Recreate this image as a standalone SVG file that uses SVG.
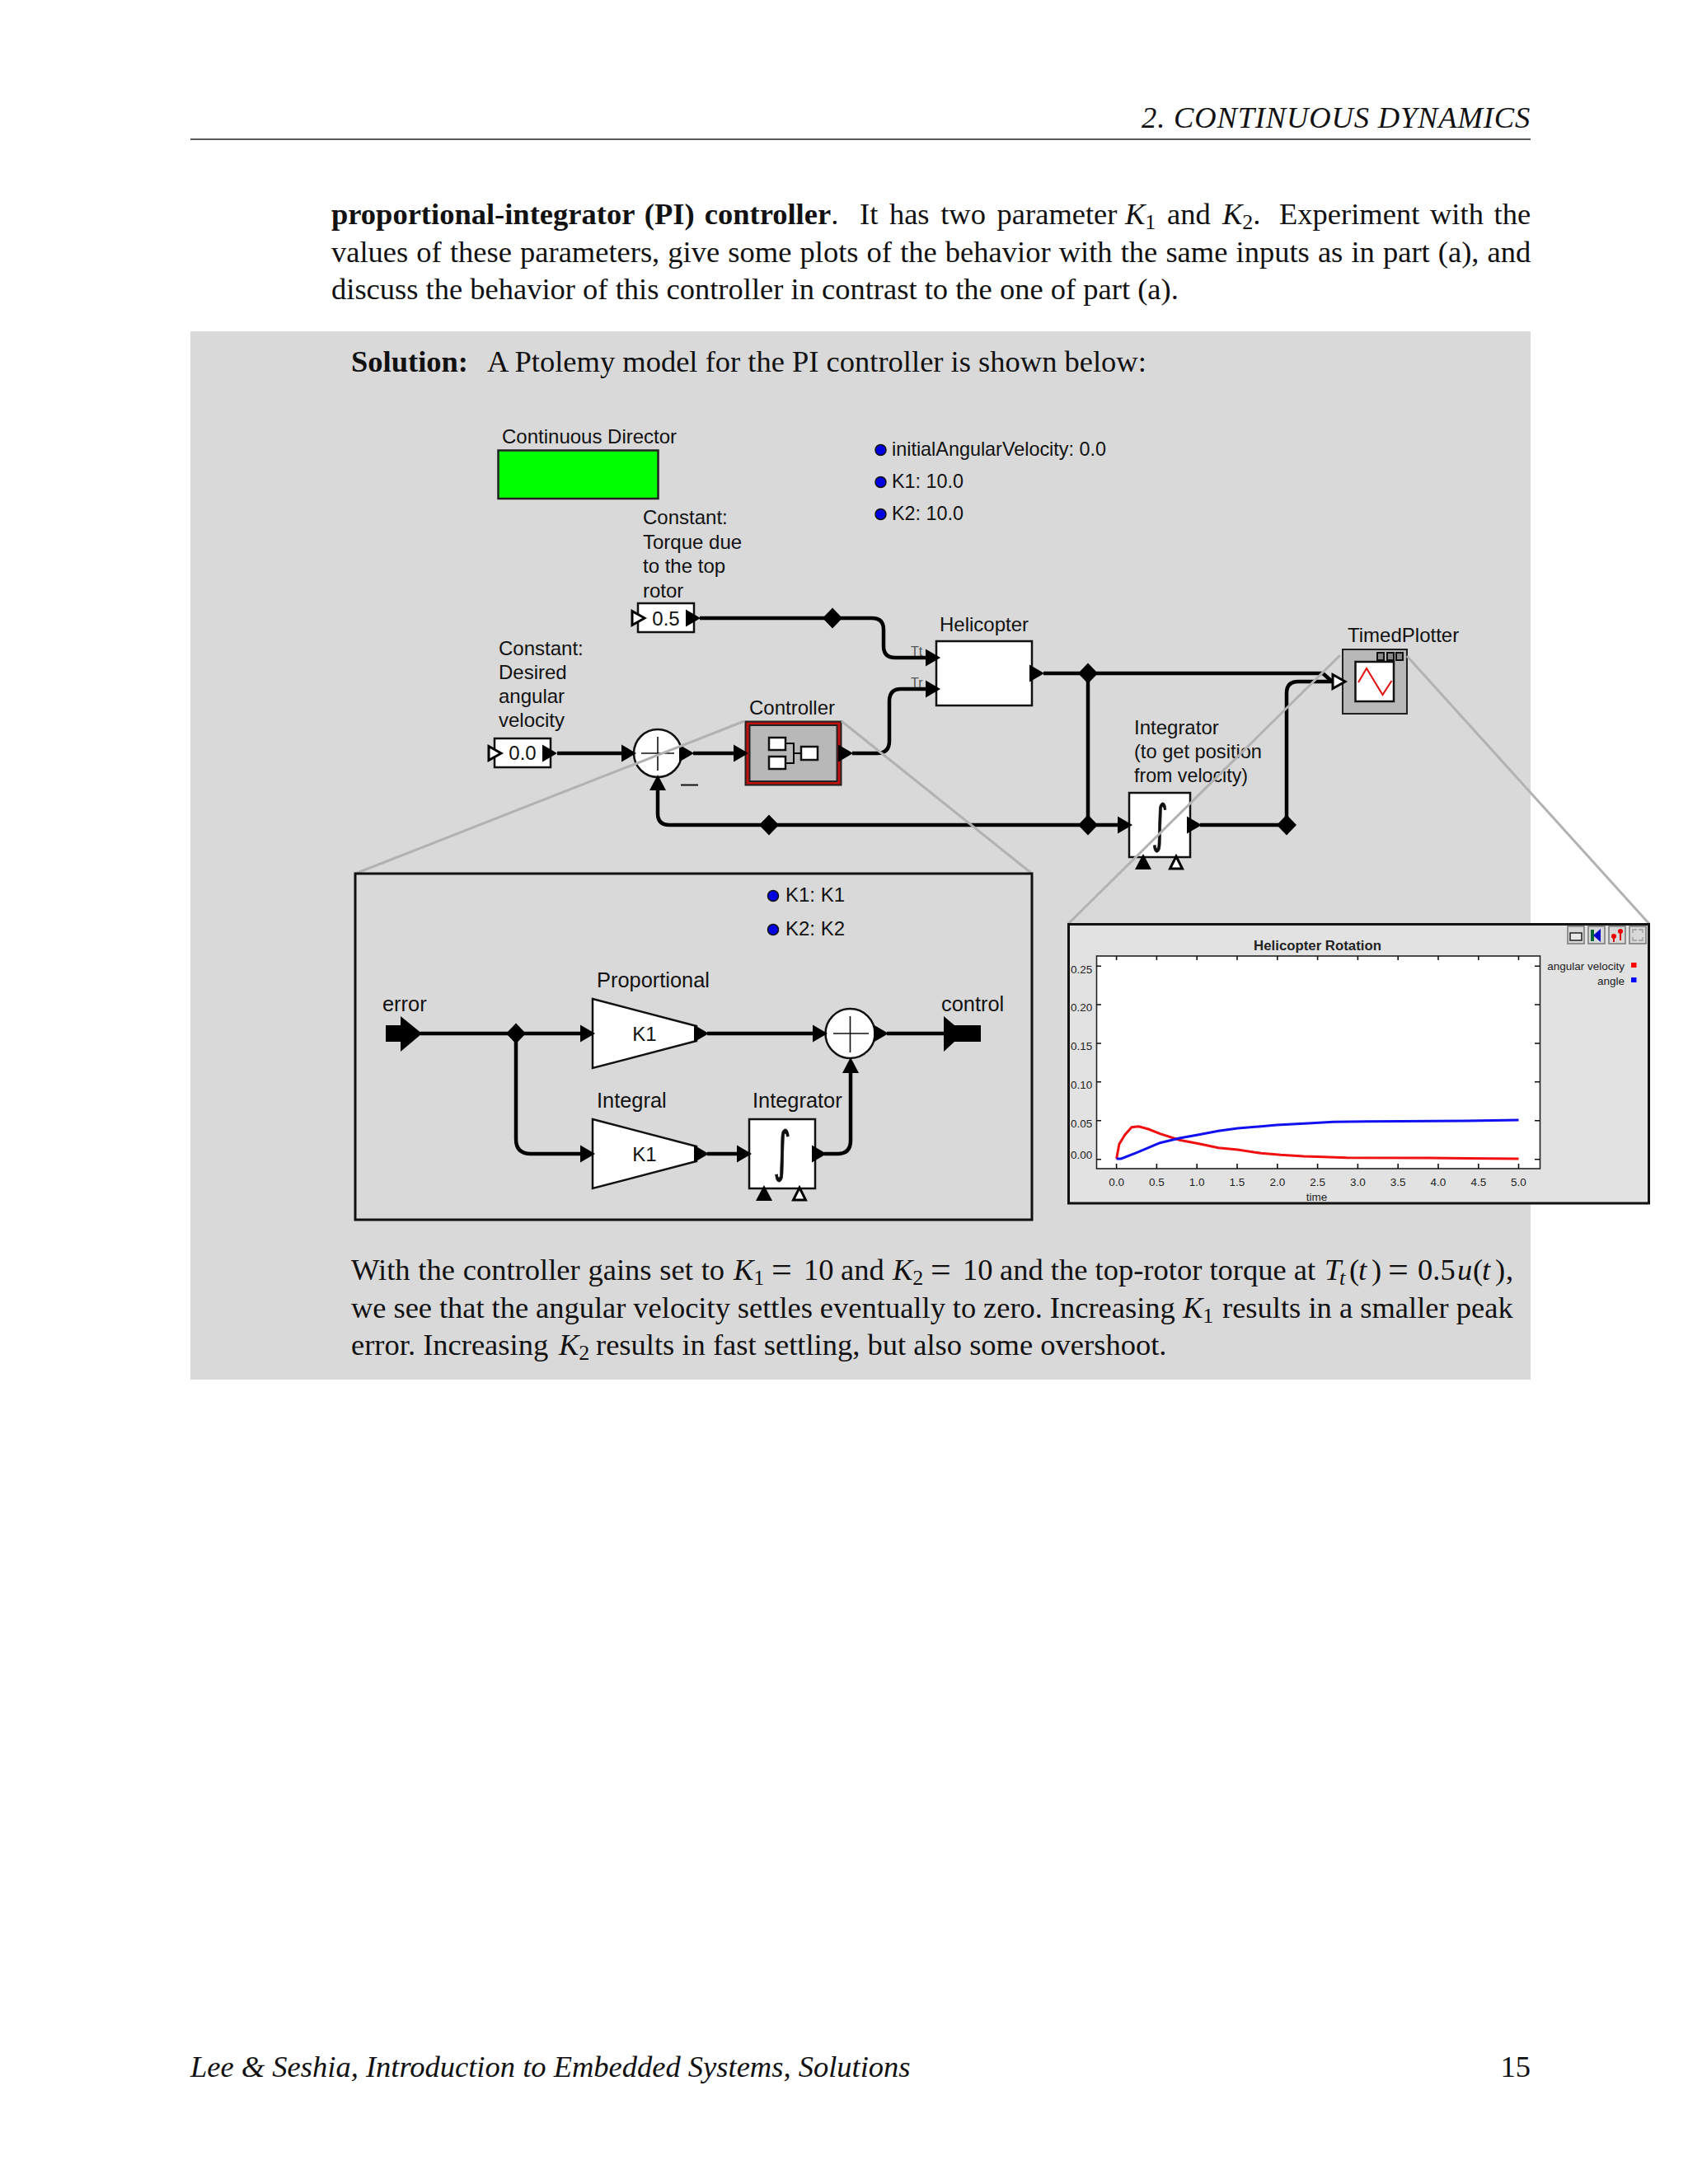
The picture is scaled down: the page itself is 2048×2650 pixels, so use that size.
<svg xmlns="http://www.w3.org/2000/svg" xmlns:xlink="http://www.w3.org/1999/xlink" width="2048" height="2650" viewBox="0 0 2048 2650">
<style>
.p{font-family:"Liberation Serif","Times New Roman",serif;font-size:36.5px;fill:#111}
.b{font-weight:bold}.i{font-style:italic}
.s{font-size:26px}
.eq{font-size:44px}
.t{font-family:"Liberation Sans",Arial,sans-serif;font-size:24px;fill:#111}
.t2{font-size:25.4px}
.c{text-anchor:middle}
.w{fill:#fff;stroke:#111;stroke-width:2.5}
.ln{fill:none;stroke:#000;stroke-width:4.5;stroke-linejoin:round}
.thin{fill:none;stroke:#000;stroke-width:2}
.lead{fill:none;stroke:#b2b2b2;stroke-width:3}
.dot{fill:#0000e0;stroke:#111;stroke-width:1.5}
.k{fill:#000}
.o{fill:#fff;stroke:#000;stroke-width:3}
.pl{font-family:"Liberation Sans",Arial,sans-serif;font-size:13.5px;fill:#222}
.tick{stroke:#111;stroke-width:1.6;fill:none}
.btn{fill:#d8d8d8;stroke:#777;stroke-width:1.5}
.int{font-family:"DejaVu Sans",sans-serif;fill:#111;stroke:#111;stroke-width:1;text-anchor:middle}
</style>
<defs>
<polygon id="ar" class="k" points="-18,-10.5 0,0 -18,10.5"/>
<polygon id="dm" class="k" points="-12,0 0,-12.5 12,0 0,12.5"/>
<polygon id="up" class="k" points="0,0 10,19 -10,19"/>
<polygon id="upo" class="o" points="0,3 7.5,18 -7.5,18"/>
<polygon id="in" class="o" points="-15,-8.5 0,0 -15,8.5"/>
</defs>
<rect width="2048" height="2650" fill="#fff"/>
<rect x="231" y="402" width="1626" height="1272" fill="#d9d9d9"/>
<g id="page-text">
<text class="p i" x="1857" y="155" text-anchor="end" letter-spacing="0.85">2. CONTINUOUS DYNAMICS</text>
<line x1="231" y1="169" x2="1857" y2="169" stroke="#222" stroke-width="1.6"/>
<text class="p" y="272"><tspan class="b" x="402" word-spacing="3">proportional-integrator (PI) controller</tspan>.<tspan x="1043" word-spacing="4.5">It has two parameter</tspan><tspan class="i" x="1365">K</tspan><tspan class="s" dy="6">1</tspan><tspan x="1416" dy="-6">and</tspan><tspan class="i" x="1483">K</tspan><tspan class="s" dy="6">2</tspan><tspan dy="-6">.</tspan><tspan x="1552" word-spacing="3.6">Experiment with the</tspan></text>
<text class="p" x="402" y="318" word-spacing="1">values of these parameters, give some plots of the behavior with the same inputs as in part (a), and</text>
<text class="p" x="402" y="363">discuss the behavior of this controller in contrast to the one of part (a).</text>
<text class="p" y="451"><tspan class="b" x="426">Solution:</tspan><tspan x="591">A Ptolemy model for the PI controller is shown below:</tspan></text>
<text class="p" y="1553"><tspan x="426" word-spacing="0.7">With the controller gains set to</tspan><tspan class="i" x="890">K</tspan><tspan class="s" dy="6">1</tspan><tspan class="eq" x="936" dy="-4">=</tspan><tspan x="975" dy="-2">10</tspan><tspan x="1020">and</tspan><tspan class="i" x="1083">K</tspan><tspan class="s" dy="6">2</tspan><tspan class="eq" x="1129" dy="-4">=</tspan><tspan x="1168" dy="-2">10</tspan><tspan x="1213">and the top-rotor torque at</tspan><tspan class="i" x="1607">T</tspan><tspan class="s i" x="1625" dy="6">t</tspan><tspan x="1637" dy="-6">(</tspan><tspan class="i" x="1648">t</tspan><tspan x="1664">)</tspan><tspan class="eq" x="1684" dy="2">=</tspan><tspan x="1720" dy="-2">0.5</tspan><tspan class="i" x="1768">u</tspan><tspan x="1787">(</tspan><tspan class="i" x="1798">t</tspan><tspan x="1814">)</tspan><tspan x="1827">,</tspan></text>
<text class="p" y="1599"><tspan x="426" word-spacing="-0.25">we see that the angular velocity settles eventually to zero. Increasing</tspan><tspan class="i" x="1435">K</tspan><tspan class="s" dy="6">1</tspan><tspan x="1483" dy="-6">results in a smaller peak</tspan></text>
<text class="p" y="1644"><tspan x="426">error. Increasing</tspan><tspan class="i" x="678">K</tspan><tspan class="s" dy="6">2</tspan><tspan x="723" dy="-6">results in fast settling, but also some overshoot.</tspan></text>
<text class="p i" x="231" y="2520">Lee &amp; Seshia, Introduction to Embedded Systems, Solutions</text>
<text class="p" x="1857" y="2520" text-anchor="end">15</text>
</g>
<g id="top-nodes">
<g id="director"><text class="t" x="609" y="538">Continuous Director</text><rect x="604.5" y="546.5" width="194" height="58.5" fill="#00ff00" stroke="#222" stroke-width="2.5"/></g>
<g id="params"><circle class="dot" cx="1068.5" cy="546" r="6.5"/><text class="t" x="1082" y="553" textLength="260" lengthAdjust="spacingAndGlyphs">initialAngularVelocity: 0.0</text><circle class="dot" cx="1068.5" cy="585" r="6.5"/><text class="t" x="1082" y="592" textLength="87" lengthAdjust="spacingAndGlyphs">K1: 10.0</text><circle class="dot" cx="1068.5" cy="624" r="6.5"/><text class="t" x="1082" y="631" textLength="87" lengthAdjust="spacingAndGlyphs">K2: 10.0</text></g>
<g id="const-torque"><text class="t" x="780" y="636">Constant:</text><text class="t" x="780" y="666">Torque due</text><text class="t" x="780" y="695">to the top</text><text class="t" x="780" y="725">rotor</text><rect class="w" x="774" y="732" width="68" height="35"/><text class="t c" x="808" y="759">0.5</text><use href="#in" x="782" y="750"/><use href="#ar" x="850" y="750"/></g>
<g id="const-desired"><text class="t" x="605" y="795">Constant:</text><text class="t" x="605" y="824">Desired</text><text class="t" x="605" y="853">angular</text><text class="t" x="605" y="882">velocity</text><rect class="w" x="600" y="896" width="68" height="35"/><text class="t c" x="634" y="922">0.0</text><use href="#in" x="608" y="914"/><use href="#ar" x="676" y="914"/></g>
<g id="add"><circle class="w" cx="798" cy="914" r="29"/><path class="tick" stroke-width="2" d="M778 914H818M798 894V935"/><use href="#ar" x="842" y="914"/><line x1="826" y1="952.5" x2="847" y2="952.5" stroke="#111" stroke-width="2"/></g>
<g id="controller"><text class="t" x="909" y="867">Controller</text><rect x="904.5" y="875.5" width="116" height="77" fill="#c01010" stroke="#222" stroke-width="2"/><rect x="909.5" y="880" width="106" height="68" fill="#b8b8b8" stroke="#222" stroke-width="2"/><path class="thin" stroke-width="1.6" d="M953 902H963V926H953M963 914H972"/><rect class="w" stroke-width="2" x="933" y="895" width="20" height="15"/><rect class="w" stroke-width="2" x="933" y="918" width="20" height="15"/><rect class="w" stroke-width="2" x="972" y="906" width="20" height="16"/><use href="#ar" x="1035" y="914"/></g>
<g id="helicopter"><text class="t" x="1140" y="766">Helicopter</text><rect class="w" x="1136" y="778" width="116" height="78"/><text x="1105" y="796" font-family="Liberation Sans,sans-serif" font-size="16" fill="#555">Tt</text><text x="1105" y="834" font-family="Liberation Sans,sans-serif" font-size="16" fill="#555">Tr</text><use href="#ar" x="1267" y="817"/></g>
<g id="plotter"><text class="t" x="1635" y="779">TimedPlotter</text><rect x="1629" y="788" width="78" height="78" fill="#b8b8b8" stroke="#222" stroke-width="2"/><rect x="1671" y="792" width="8" height="9" fill="#888" stroke="#111" stroke-width="2"/><rect x="1683" y="792" width="8" height="9" fill="#888" stroke="#111" stroke-width="2"/><rect x="1694" y="792" width="8" height="9" fill="#888" stroke="#111" stroke-width="2"/><rect class="w" x="1644.5" y="803" width="46.5" height="48"/><polyline points="1648,828 1658,811 1677.5,843 1688.5,826" fill="none" stroke="#e01010" stroke-width="2"/></g>
<g id="integrator-top"><text class="t" x="1376" y="891">Integrator</text><text class="t" x="1376" y="920" textLength="155" lengthAdjust="spacingAndGlyphs">(to get position</text><text class="t" x="1376" y="949" textLength="138" lengthAdjust="spacingAndGlyphs">from velocity)</text><rect class="w" x="1370" y="962" width="74" height="78"/><text class="int" transform="translate(1407 1021) scale(0.62 1)" font-size="62">∫</text><use href="#up" x="1387" y="1036"/><use href="#upo" x="1427" y="1036"/><use href="#ar" x="1458" y="1001"/></g>
</g>
<g id="connectors">
<path class="ln" d="M849 750H1058Q1072 750 1072 764V784Q1072 798 1086 798H1130"/>
<path class="ln" d="M1034 914H1064Q1079 914 1079 899V851Q1079 836 1093 836H1130"/>
<path class="ln" d="M676 914H760"/><path class="ln" d="M841 914H898"/>
<path class="ln" d="M798 950V987Q798 1001 812 1001H1360"/>
<path class="ln" d="M1266 817H1605L1615 826"/>
<path class="ln" d="M1320 817V1001"/>
<path class="ln" d="M1456 1001H1561V841Q1561 827 1575 827H1618"/>
<use href="#ar" x="1141" y="798"/><use href="#ar" x="1141" y="836"/>
<use href="#ar" x="772" y="914"/><use href="#ar" x="908" y="914"/>
<use href="#up" x="798" y="940"/>
<use href="#dm" x="1010" y="750"/><use href="#dm" x="933" y="1001"/><use href="#dm" x="1320" y="817"/><use href="#dm" x="1320" y="1001"/><use href="#dm" x="1561" y="1001"/>
<use href="#ar" x="1374" y="1001"/>
<use href="#in" x="1632" y="827"/>
</g>
<g id="leaders">
<path class="lead" d="M903 875L431 1060M1021 875L1252 1060M1626 795L1296 1121M1707 796L2001 1121"/>
</g>
<g id="controller-detail">
<rect x="431" y="1060" width="821" height="420" fill="#d9d9d9" stroke="#111" stroke-width="3"/>
<circle class="dot" cx="938" cy="1087" r="6.5"/><text class="t" x="953" y="1094">K1: K1</text>
<circle class="dot" cx="938" cy="1128" r="6.5"/><text class="t" x="953" y="1135">K2: K2</text>
<g id="error"><text class="t t2" x="464" y="1227">error</text><path class="k" d="M468 1244H486V1233L512 1254L486 1276V1264H468Z"/></g>
<g id="control"><text class="t t2" x="1142" y="1227">control</text><path class="k" d="M1145 1233L1158 1244H1190V1264H1158L1145 1276Z"/></g>
<g id="proportional"><text class="t t2" x="724" y="1198">Proportional</text><polygon class="w" points="719,1212 845,1245 845,1263 719,1296"/><text class="t c" x="782" y="1263">K1</text><use href="#ar" x="860" y="1254"/></g>
<g id="integral"><text class="t t2" x="724" y="1344">Integral</text><polygon class="w" points="719,1358 845,1391 845,1409 719,1442"/><text class="t c" x="782" y="1409">K1</text><use href="#ar" x="860" y="1400"/></g>
<g id="add2"><circle class="w" cx="1031.5" cy="1254" r="30"/><path class="tick" stroke-width="2" d="M1011 1254H1054M1031.5 1233V1277"/><use href="#ar" x="1078" y="1254"/></g>
<g id="integrator2"><text class="t t2" x="913" y="1344">Integrator</text><rect class="w" x="909" y="1358" width="80" height="84"/><text class="int" transform="translate(949 1420) scale(0.62 1)" font-size="66">∫</text><use href="#up" x="927" y="1438"/><use href="#upo" x="970" y="1438"/><use href="#ar" x="1003" y="1400"/></g>
<g id="connectors2">
<path class="ln" d="M510 1254H710M858 1254H990M1076 1254H1150"/>
<path class="ln" d="M626 1254V1382Q626 1400 644 1400H710"/>
<path class="ln" d="M858 1400H900"/>
<path class="ln" d="M1000 1400H1016Q1032 1400 1032 1384V1298"/>
<use href="#ar" x="722" y="1254"/><use href="#ar" x="722" y="1400"/><use href="#ar" x="1004" y="1254"/><use href="#ar" x="912" y="1400"/><use href="#up" x="1032" y="1283"/><use href="#dm" x="626" y="1254"/>
</g>
</g>
<g id="plot-window">
<rect x="1296.5" y="1121.5" width="704" height="338.5" fill="#e2e2e2" stroke="#111" stroke-width="3"/>
<rect x="1330.5" y="1160" width="538" height="258" fill="#fff" stroke="#222" stroke-width="1.6"/>
<text class="pl b c" x="1598.5" y="1153" style="font-size:16.8px;font-weight:bold">Helicopter Rotation</text>
<path class="tick" d="M1330 1172.3h6M1330 1219h6M1330 1266h6M1330 1312.7h6M1330 1359.7h6M1330 1406.7h6M1868 1172.3h-6M1868 1219h-6M1868 1266h-6M1868 1312.7h-6M1868 1359.7h-6M1868 1406.7h-6"/>
<path class="tick" d="M1354.6 1160v5M1403.4 1160v5M1452.2 1160v5M1501 1160v5M1549.8 1160v5M1598.6 1160v5M1647.4 1160v5M1696.2 1160v5M1745 1160v5M1793.8 1160v5M1842.5 1160v5M1354.6 1418v-6M1403.4 1418v-6M1452.2 1418v-6M1501 1418v-6M1549.8 1418v-6M1598.6 1418v-6M1647.4 1418v-6M1696.2 1418v-6M1745 1418v-6M1793.8 1418v-6M1842.5 1418v-6"/>
<g class="pl"><text x="1299" y="1181">0.25</text><text x="1299" y="1227">0.20</text><text x="1299" y="1274">0.15</text><text x="1299" y="1321">0.10</text><text x="1299" y="1368">0.05</text><text x="1299" y="1406">0.00</text></g>
<g class="pl" text-anchor="middle"><text x="1354.6" y="1439">0.0</text><text x="1403.4" y="1439">0.5</text><text x="1452.2" y="1439">1.0</text><text x="1501" y="1439">1.5</text><text x="1549.8" y="1439">2.0</text><text x="1598.6" y="1439">2.5</text><text x="1647.4" y="1439">3.0</text><text x="1696.2" y="1439">3.5</text><text x="1745" y="1439">4.0</text><text x="1793.8" y="1439">4.5</text><text x="1842.5" y="1439">5.0</text><text x="1597.6" y="1457">time</text></g>
<g class="pl" text-anchor="end"><text x="1971" y="1177">angular velocity</text><text x="1971" y="1195">angle</text></g>
<rect x="1979" y="1168" width="6.5" height="6" fill="#f00"/><rect x="1979" y="1186" width="6.5" height="6" fill="#00f"/>
<polyline fill="none" stroke="#f01010" stroke-width="3" points="1354.6,1406 1357.9,1388.3 1365,1376.7 1373,1367.7 1381.5,1366.7 1393.3,1370 1407.4,1375.7 1431,1383.3 1454.6,1387.7 1478.2,1392.7 1501.8,1395 1530,1399.3 1553.7,1401.3 1582,1403 1605.6,1403.7 1634,1404.7 1733,1405 1842.5,1406"/>
<polyline fill="none" stroke="#1010f0" stroke-width="3" points="1354.6,1406 1360.2,1406 1379,1398.7 1407.4,1386.7 1431,1381 1454.6,1376.7 1478.2,1372.3 1501.8,1369 1530,1366.7 1549,1365 1567.9,1364 1591.5,1362.7 1617.4,1361.3 1657.5,1360.7 1780,1360 1842.5,1359"/>
<g id="buttons"><rect class="btn" x="1902" y="1124" width="20" height="21"/><rect x="1905" y="1132" width="14" height="9" fill="#e8e8e8" stroke="#222" stroke-width="1.5"/><rect class="btn" x="1927" y="1124" width="20" height="21"/><rect x="1930" y="1128" width="4" height="14" fill="#063"/><polygon points="1942,1127 1942,1143 1933,1135" fill="#00c"/><rect class="btn" x="1952" y="1124" width="20" height="21"/><path d="M1958 1136V1143M1966 1130V1141" stroke="#d00" stroke-width="2"/><circle cx="1958" cy="1136" r="3" fill="#e00"/><circle cx="1966" cy="1130" r="3" fill="#e00"/><rect class="btn" x="1977" y="1124" width="20" height="21"/><path d="M1981 1132V1128H1986M1993 1132V1128H1988M1981 1137V1141H1986M1993 1137V1141H1988" fill="none" stroke="#999" stroke-width="1.3"/></g>
</g>
</svg>
